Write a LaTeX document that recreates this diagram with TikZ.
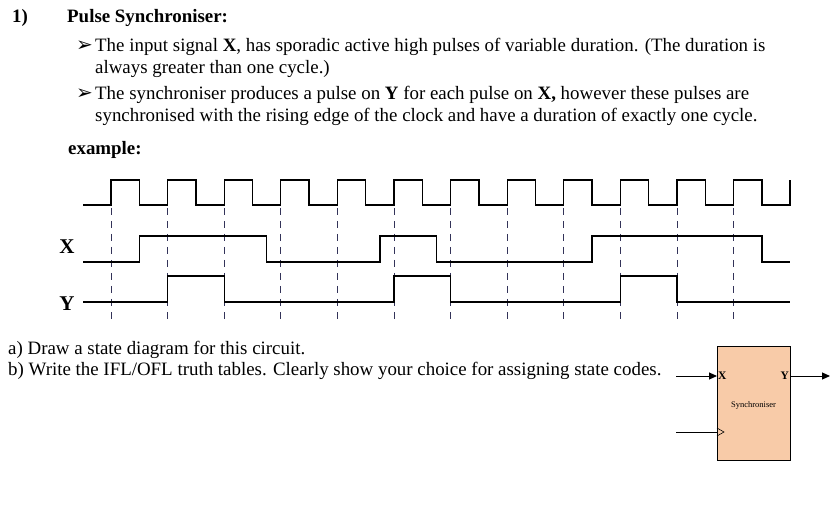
\documentclass[tikz,border=0pt]{standalone}
\usepackage{fontspec}
\setmainfont{Liberation Serif}
\newfontfamily\symf{DejaVu Sans}
\usetikzlibrary{arrows.meta}
\begin{document}
\begin{tikzpicture}[x=1pt,y=-1pt,
  txt/.style={anchor=base west,inner sep=0pt,font=\fontsize{18.9}{22}\selectfont},
  btxt/.style={txt,font=\bfseries\fontsize{18.9}{22}\selectfont},
  wave/.style={line width=1.3pt,line join=miter},
  grid/.style={dashed,dash pattern=on 7pt off 6pt,line width=0.9pt,black!75!blue!60!gray},
  sig/.style={-{Triangle[length=8pt,width=7pt]},line width=1pt}]
\useasboundingbox (0,0) rectangle (837,526);
\def\P{56.6}
% header
\node[btxt] (n1) at (12,23) {1)};
\node[btxt] (ttl) at (67,23) {Pulse Synchroniser:};
\node[txt] (b1) at (76,52) {{\symf\fontsize{20}{20}\selectfont ➢}};
\node[txt] (l1) at (95,52) {The input signal \textbf{X}, has sporadic active high pulses of variable duration. (The duration is};
\node[txt] (l2) at (95,74) {always greater than one cycle.)};
\node[txt] (b2) at (76,100) {{\symf\fontsize{20}{20}\selectfont ➢}};
\node[txt] (l3) at (95,100) {The synchroniser produces a pulse on \textbf{Y} for each pulse on \textbf{X,} however these pulses are};
\node[txt] (l4) at (95,122) {synchronised with the rising edge of the clock and have a duration of exactly one cycle.};
\node[btxt] (ex) at (68,155) {example:};
% dashed grid
\foreach \k in {0,...,11}{
  \draw[grid] ({111+\k*\P},208) -- ({111+\k*\P},324);
}
% clock
\draw[wave] (83,205)
 \foreach \k in {0,...,11}{ -- ({111+\k*\P},205) -- ({111+\k*\P},180) -- ({139.3+\k*\P},180) -- ({139.3+\k*\P},205) }
 -- (790,205) -- (790,180);
% X
\node[anchor=base,inner sep=0pt,font=\bfseries\fontsize{21}{24}\selectfont] (xl) at (67,254) {X};
\draw[wave] (83,262)
 -- ({111+0.5*\P},262) -- ({111+0.5*\P},236) -- ({111+2.75*\P},236) -- ({111+2.75*\P},262)
 -- ({111+4.75*\P},262) -- ({111+4.75*\P},236) -- ({111+5.75*\P},236) -- ({111+5.75*\P},262)
 -- ({111+8.5*\P},262) -- ({111+8.5*\P},236) -- ({111+11.5*\P},236) -- ({111+11.5*\P},262) -- (790,262);
% Y
\node[anchor=base,inner sep=0pt,font=\bfseries\fontsize{21}{24}\selectfont] (yl) at (67,310) {Y};
\draw[wave] (83,302)
 -- ({111+1*\P},302) -- ({111+1*\P},276) -- ({111+2*\P},276) -- ({111+2*\P},302)
 -- ({111+5*\P},302) -- ({111+5*\P},276) -- ({111+6*\P},276) -- ({111+6*\P},302)
 -- ({111+9*\P},302) -- ({111+9*\P},276) -- ({111+10*\P},276) -- ({111+10*\P},302) -- (790,302);
% questions
\node[txt] (qa) at (8,354) {a) Draw a state diagram for this circuit.};
\node[txt] (qb) at (8,375) {b) Write the IFL/OFL truth tables. Clearly show your choice for assigning state codes.};
% block
\node[draw,line width=0.8pt,fill={rgb,255:red,248;green,203;blue,168},minimum width=73pt,minimum height=114pt,inner sep=0pt,anchor=north west] (blk) at (717,346) {};
\node[font=\fontsize{8.5}{10}\selectfont,inner sep=0pt] (bn) at (753.5,405) {Synchroniser};
\node[font=\bfseries\fontsize{11.5}{12}\selectfont,inner sep=1pt,anchor=west] (px) at (717,376) {X};
\node[font=\bfseries\fontsize{11.5}{12}\selectfont,inner sep=1pt,anchor=east] (py) at (790,376) {Y};
\coordinate (xin) at (676,376);
\coordinate (yout) at (830,376);
\coordinate (cin) at (676,432);
\draw[sig] (xin) -- (px.west);
\draw[sig] (py.east -| blk.east) -- (yout);
\draw[line width=1pt] (cin) -- (cin -| blk.west);
\draw[line width=0.6pt] (717,428) -- (724,432) -- (717,436);
\end{tikzpicture}
\end{document}
